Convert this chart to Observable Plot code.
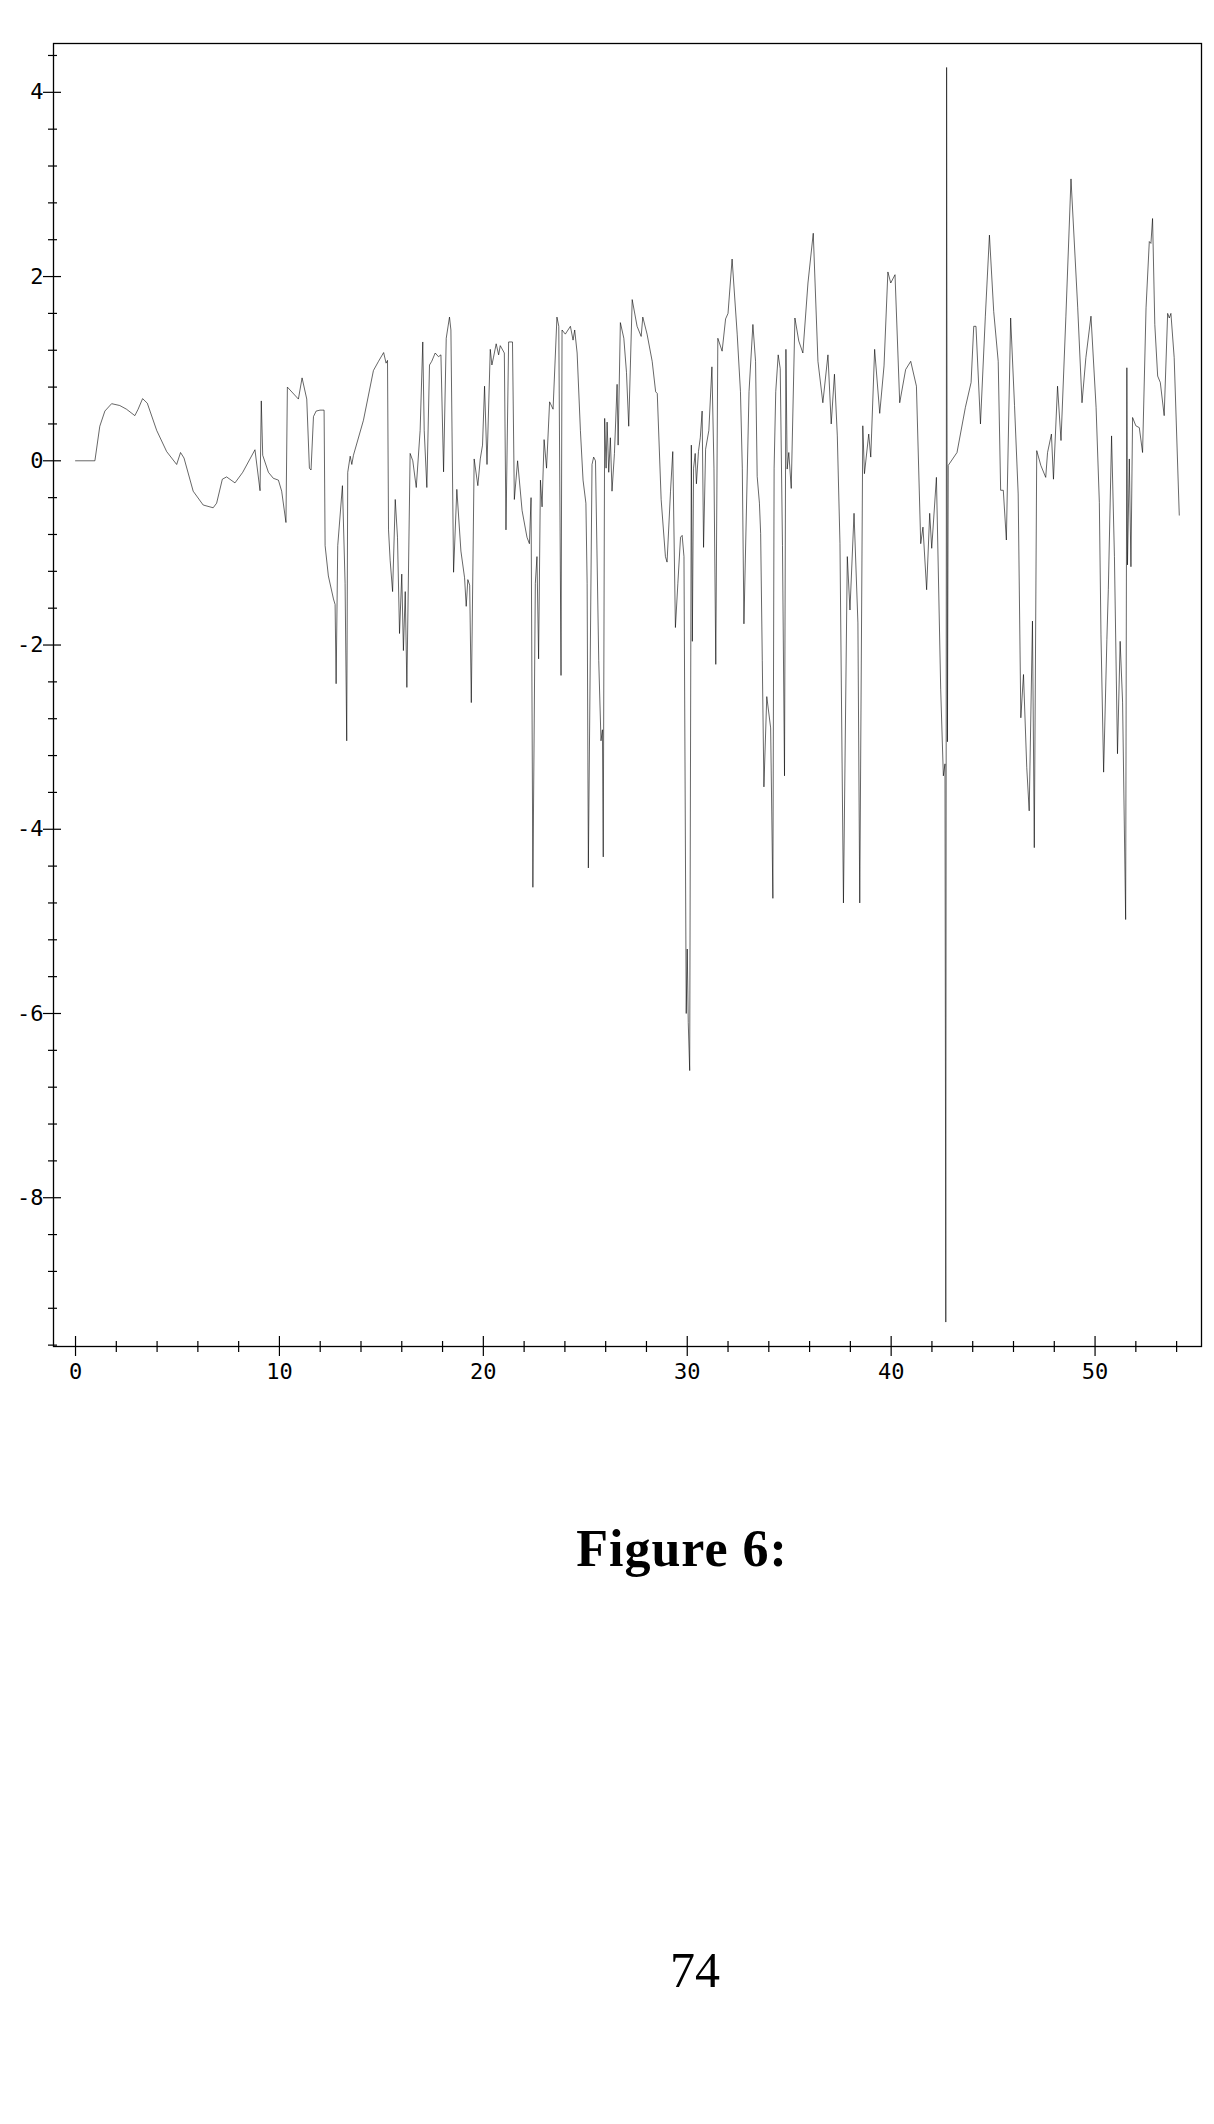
<!DOCTYPE html>
<html><head><meta charset="utf-8">
<script src="https://cdn.jsdelivr.net/npm/d3@7"></script>
<script src="https://cdn.jsdelivr.net/npm/@observablehq/plot@0.6"></script>
<style>
html,body{margin:0;padding:0;background:#fff;}
#page{position:relative;width:1214px;height:2124px;overflow:hidden;}
#chart{position:absolute;left:0;top:0;}
.cap{position:absolute;transform:translateX(-50%);white-space:nowrap;font-family:"Liberation Serif",serif;line-height:1;color:#000;}
</style></head><body>
<div id="page"><div id="chart"></div>
<div class="cap" id="fig" style="left:682px;top:1523px;font-size:52px;font-weight:bold;letter-spacing:1px;">Figure 6:</div>
<div class="cap" id="pg" style="left:695px;top:1945px;font-size:50px;">74</div>
</div>
<script>
const xs = [0,0.95,1.19,1.44,1.77,2.17,2.5,2.91,3.07,3.29,3.52,3.98,4.47,4.96,5.15,5.32,5.77,6.26,6.75,6.92,7.2,7.41,7.82,8.2,8.8,9.05,9.11,9.18,9.46,9.7,9.95,10.11,10.32,10.39,10.93,11.11,11.34,
11.47,11.55,11.67,11.8,11.99,12.19,12.24,12.4,12.65,12.73,12.78,12.86,13.09,13.22,13.3,13.35,13.47,13.55,13.63,14.12,14.61,14.86,15.11,15.23,15.3,15.35,15.43,15.55,15.68,15.79,15.89,16.0,16.08,16.17,16.25,16.41,16.54,16.71,16.9,17.03,17.1,17.23,17.36,17.47,17.64,17.8,17.92,18.05,18.18,18.34,18.41,18.54,18.7,18.9,19.08,19.16,19.24,19.33,19.41,19.55,19.73,19.85,19.96,20.06,20.18,20.34,20.42,20.5,20.63,20.75,20.83,21.03,21.11,21.24,21.43,21.52,21.68,21.9,22.14,22.26,22.34,22.43,22.55,22.63,22.71,22.8,22.88,22.98,23.1,23.25,
23.42,23.61,23.7,23.81,23.86,24.02,24.27,24.4,24.48,24.6,24.76,24.89,25.03,25.09,25.15,25.33,25.41,25.5,25.66,25.77,25.84,25.88,25.95,26.02,26.07,26.15,26.23,26.31,26.43,26.56,26.61,26.72,26.89,27.02,27.13,27.3,27.54,27.74,27.82,28.03,28.28,28.45,28.53,28.72,28.93,29.01,29.18,29.29,29.42,29.54,29.67,29.75,29.84,29.95,30.0,30.05,30.12,30.2,30.25,30.31,30.39,30.45,30.55,30.64,30.73,30.8,30.9,31.06,31.21,31.31,31.4,31.5,31.71,31.88,32.0,32.2,32.45,32.61,32.7,32.78,33.03,33.22,33.35,33.43,33.54,33.6,33.68,33.76,33.9,34.09,34.2,34.26,34.34,34.46,34.56,34.67,34.77,34.84,34.9,34.98,35.1,
35.28,35.47,35.67,35.92,36.18,36.41,36.65,36.9,37.06,37.22,37.36,37.49,37.66,37.85,37.98,38.18,38.37,38.46,38.61,38.69,38.9,39.0,39.19,39.44,39.65,39.84,39.98,40.19,40.42,40.71,40.96,41.24,41.45,41.56,41.74,41.89,41.99,42.22,42.43,42.56,42.64,42.68,42.72,42.76,42.8,43.23,43.64,43.92,44.05,44.16,44.38,44.62,44.82,45.03,45.25,45.37,45.5,45.65,45.86,46.05,46.23,46.36,46.49,46.65,46.77,46.93,47.02,47.14,47.34,47.58,47.67,47.86,47.96,48.16,48.33,48.57,48.82,49.15,49.36,49.55,49.8,50.05,50.21,50.29,50.42,50.58,50.65,50.81,50.95,51.1,51.23,51.35,51.5,51.56,51.59,51.68,51.76,51.84,52.0,52.17,52.33,52.5,52.66,52.74,52.82,52.93,53.07,53.2,53.39,53.56,53.64,53.72,53.88,54.13];
const ys = [0,0,0.375,0.54,0.62,0.60,0.56,0.49,0.56,0.675,0.625,0.33,0.10,-0.04,0.09,0.03,-0.33,-0.48,-0.51,-0.46,-0.2,-0.175,-0.24,-0.125,0.12,-0.325,0.65,0.06,-0.125,-0.19,-0.21,-0.33,-0.67,0.8,0.67,0.9,0.67,
-0.08,-0.10,0.48,0.54,0.55,0.55,-0.92,-1.25,-1.5,-1.56,-2.42,-0.92,-0.27,-1.33,-3.04,-0.125,0.05,-0.04,0.06,0.44,0.98,1.08,1.175,1.06,1.09,-0.75,-1.08,-1.42,-0.42,-0.83,-1.875,-1.23,-2.06,-1.42,-2.46,0.08,0.0,-0.29,0.33,1.29,0.33,-0.29,1.04,1.08,1.17,1.13,1.15,-0.12,1.33,1.56,1.42,-1.21,-0.31,-0.98,-1.27,-1.58,-1.29,-1.35,-2.625,0.02,-0.27,0.02,0.17,0.81,-0.04,1.21,1.04,1.125,1.27,1.15,1.25,1.17,-0.75,1.29,1.29,-0.42,0.0,-0.54,-0.83,-0.9,-0.4,-4.63,-1.33,-1.04,-2.15,-0.21,-0.5,0.23,-0.08,0.64,
0.56,1.56,1.46,-2.33,1.42,1.375,1.46,1.31,1.42,1.17,0.33,-0.21,-0.46,-1.33,-4.42,-0.04,0.04,0.0,-2.17,-3.04,-2.92,-4.3,0.46,-0.08,0.42,-0.125,0.25,-0.33,0.08,0.83,0.17,1.5,1.33,0.96,0.375,1.75,1.46,1.35,1.56,1.375,1.08,0.75,0.73,-0.42,-1.04,-1.1,-0.33,0.1,-1.81,-1.33,-0.83,-0.81,-1.04,-6.0,-5.3,-6.1,-6.62,0.17,-1.96,-0.08,0.08,-0.25,0.1,0.25,0.54,-0.94,0.125,0.33,1.02,-0.08,-2.21,1.33,1.19,1.54,1.6,2.19,1.375,0.75,-0.08,-1.77,0.75,1.48,1.08,-0.17,-0.46,-0.79,-2.17,-3.54,-2.56,-2.9,-4.75,-0.08,0.75,1.15,1.0,-0.92,-3.42,1.21,-0.09,0.09,-0.3,
1.55,1.3,1.17,1.93,2.47,1.08,0.63,1.15,0.4,0.94,0.27,-0.9,-4.8,-1.04,-1.62,-0.57,-1.76,-4.8,0.38,-0.14,0.29,0.04,1.21,0.515,1.03,2.05,1.93,2.02,0.63,0.99,1.08,0.81,-0.9,-0.72,-1.4,-0.57,-0.95,-0.18,-2.48,-3.42,-3.29,-9.35,4.27,-3.05,-0.05,0.09,0.58,0.85,1.46,1.46,0.4,1.57,2.45,1.62,1.08,-0.32,-0.32,-0.86,1.55,0.6,-0.36,-2.79,-2.32,-3.33,-3.8,-1.74,-4.2,0.11,-0.05,-0.18,0.09,0.29,-0.2,0.81,0.22,1.57,3.06,1.66,0.63,1.12,1.57,0.58,-0.45,-1.89,-3.38,-1.94,-1.4,0.27,-1.04,-3.18,-1.96,-2.62,-4.98,1.01,-1.13,0.02,-1.15,0.47,0.38,0.36,0.09,1.66,2.38,2.36,2.63,1.48,0.92,0.85,0.49,1.6,1.55,1.6,1.12,-0.59];

const yMajor = [-8, -6, -4, -2, 0, 2, 4];
const yMinor = [-9.6,-9.2,-8.8,-8.4,-7.6,-7.2,-6.8,-6.4,-5.6,-5.2,-4.8,-4.4,-3.6,-3.2,-2.8,-2.4,-1.6,-1.2,-0.8,-0.4,0.4,0.8,1.2,1.6,2.4,2.8,3.2,3.6,4.4];
const xMajor = [0, 10, 20, 30, 40, 50];
const xMinor = [2,4,6,8,12,14,16,18,22,24,26,28,32,34,36,38,42,44,46,48,52,54];

const W = 1214, H = 1400, mL = 53, mR = 13, mT = 43, mB = 54;
const plotW = W - mL - mR, plotH = H - mT - mB;
const series = xs.map((x, i) => ({x, y: ys[i]}));

const chart = Plot.plot({
  width: W, height: H,
  marginLeft: mL, marginRight: mR, marginTop: mT, marginBottom: mB,
  style: {fontFamily: '"DejaVu Sans Mono", monospace', fontSize: "22px", background: "white", color: "black", overflow: "visible"},
  x: {domain: [-1.08, 55.22], axis: null, label: null},
  y: {domain: [-9.615, 4.53], axis: null, label: null},
  marks: [
    Plot.line(series, {x: "x", y: "y", stroke: "#000", strokeWidth: 0.6}),
    Plot.frame({stroke: "#000", strokeWidth: 1.3}),
    Plot.tickY(yMajor, {y: d => d, stroke: "#000", strokeWidth: 1.2, insetRight: plotW - 18, dx: -10}),
    Plot.tickY(yMinor, {y: d => d, stroke: "#000", strokeWidth: 1.2, insetRight: plotW - 9, dx: -5}),
    Plot.tickX(xMajor, {x: d => d, stroke: "#000", strokeWidth: 1.2, insetTop: plotH - 20, dy: 10}),
    Plot.tickX(xMinor, {x: d => d, stroke: "#000", strokeWidth: 1.2, insetTop: plotH - 11, dy: 6}),
    Plot.axisY(yMajor, {tickSize: 0, tickPadding: 10, tickFormat: d => String(d), label: null}),
    Plot.axisX(xMajor, {tickSize: 0, tickPadding: 17, tickFormat: d => String(d), label: null})
  ]
});
document.getElementById("chart").appendChild(chart);
</script>
</body></html>
